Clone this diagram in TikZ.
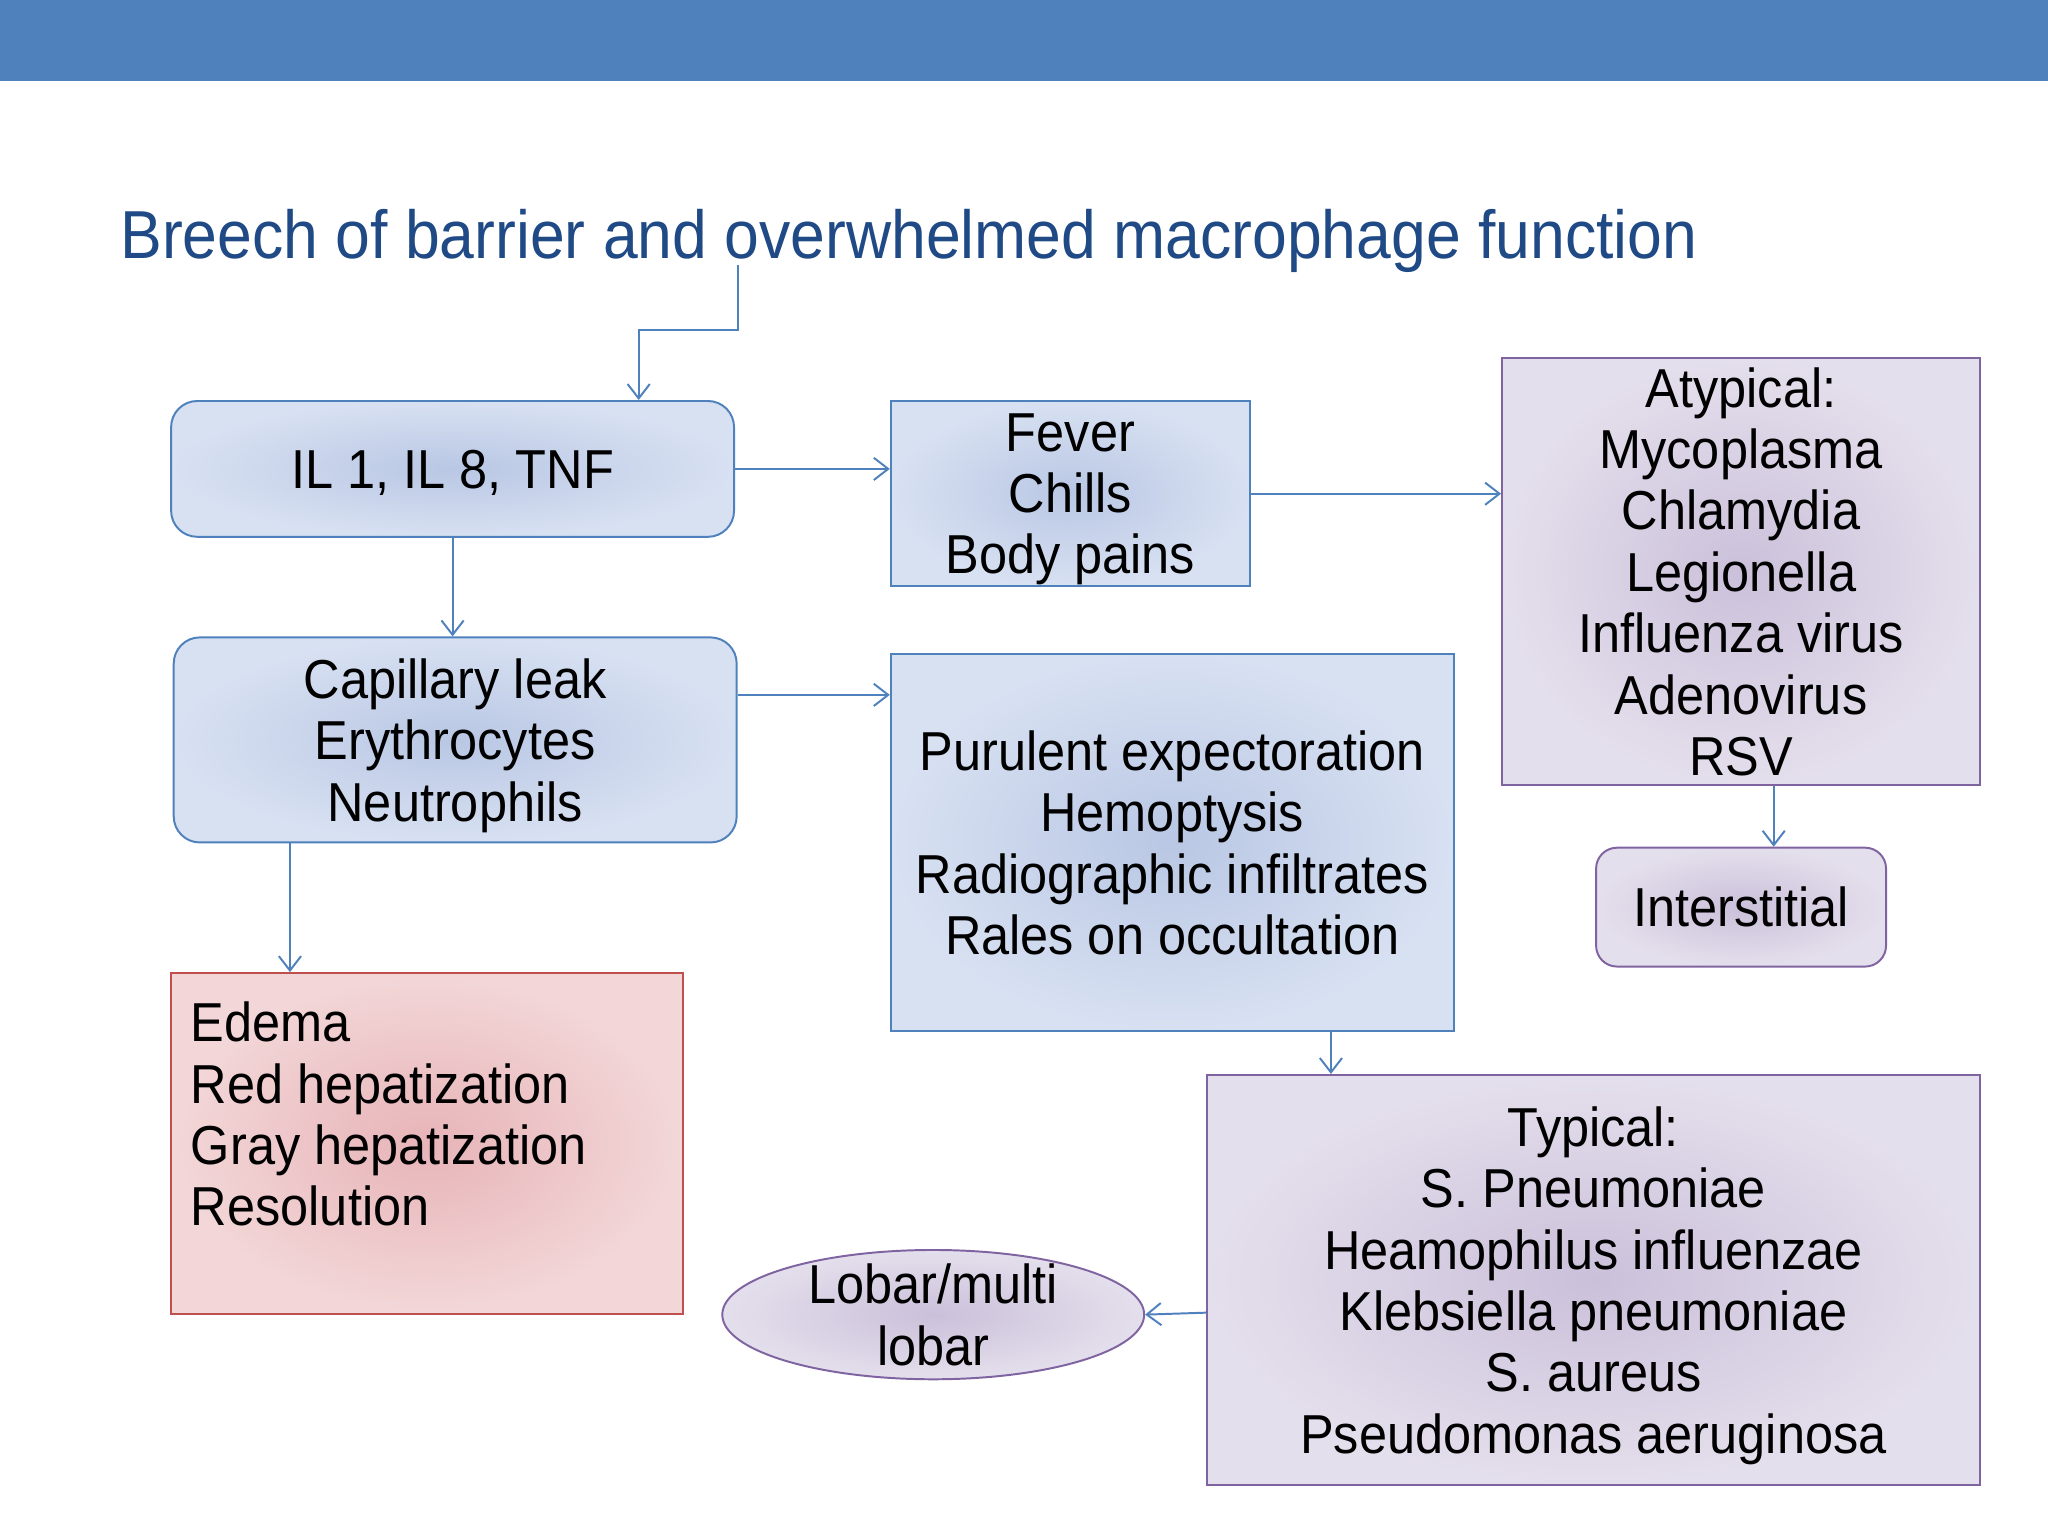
\documentclass[tikz,border=0pt]{standalone}
\usepackage{fontspec}
\setmainfont{Liberation Sans}[FakeStretch=0.92]
\usepackage{xcolor}
\usepackage{tikz}
\usetikzlibrary{arrows.meta,shapes.geometric,positioning}

\definecolor{band}{HTML}{4F81BD}
\definecolor{titleblue}{HTML}{1F4A85}
\definecolor{lineblue}{HTML}{4F81BD}
\definecolor{bluein}{HTML}{B9C7E4}
\definecolor{blueout}{HTML}{D8E1F2}
\definecolor{purpline}{HTML}{8064A2}
\definecolor{purpin}{HTML}{CBC0DA}
\definecolor{purpout}{HTML}{E4DFEC}
\definecolor{redline}{HTML}{C0504D}
\definecolor{redin}{HTML}{E7B4B8}
\definecolor{redout}{HTML}{F3D7D8}

\begin{document}
\begin{tikzpicture}[x=1pt, y=-1pt,
  every node/.style={font=\fontsize{42}{47}\selectfont, inner sep=0pt},
  bluebox/.style={draw=lineblue, line width=1.5pt, shading=radial, inner color=bluein, outer color=blueout, align=center, text depth=0pt},
  purpbox/.style={draw=purpline, line width=1.5pt, shading=radial, inner color=purpin, outer color=purpout, align=center, text depth=0pt},
  redbox/.style={draw=redline, line width=1.5pt, shading=radial, inner color=redin, outer color=redout},
  arr/.style={draw=lineblue, line width=1.5pt, -{Straight Barb[length=11pt,width=17pt]}}]

\useasboundingbox (0,0) rectangle (1568,1176);
\fill[white] (0,0) rectangle (1568,1176);
\fill[band] (0,0) rectangle (1568,62);

\node[anchor=base west, font=\fontsize{52}{60}\selectfont, text=titleblue] (title) at (92,198) {Breech of barrier and overwhelmed macrophage function};

\node[bluebox, rounded corners=20pt, minimum width=431pt, minimum height=104pt] (il) at (346.5,359) {IL 1, IL 8, TNF};
\node[bluebox, minimum width=275pt, minimum height=142pt] (fever) at (819.5,378) {Fever\\Chills\\Body pains};
\node[purpbox, minimum width=366pt, minimum height=327pt] (atyp) at (1333,437.5) {Atypical:\\Mycoplasma\\Chlamydia\\Legionella\\Influenza virus\\Adenovirus\\RSV};
\node[bluebox, rounded corners=20pt, minimum width=431pt, minimum height=157pt] (cap) at (348.5,566.5) {Capillary leak\\Erythrocytes\\Neutrophils};
\node[bluebox, minimum width=431pt, minimum height=288pt] (purul) at (897.5,645) {Purulent expectoration\\Hemoptysis\\Radiographic infiltrates\\Rales on occultation};
\node[purpbox, rounded corners=16pt, minimum width=222pt, minimum height=91pt] (inter) at (1333,694.5) {Interstitial};
\node[redbox, minimum width=392pt, minimum height=261pt] (edema) at (327,875.5) {};
\node[anchor=north west, align=left] (edtext) at (146,767) {Edema\\Red hepatization\\Gray hepatization\\Resolution};
\node[purpbox, minimum width=592pt, minimum height=314pt] (typ) at (1220,980) {Typical:\\S. Pneumoniae\\Heamophilus influenzae\\Klebsiella pneumoniae\\S. aureus\\Pseudomonas aeruginosa};
\node[ellipse, draw=purpline, line width=1.5pt, shading=radial, inner color=purpin, outer color=purpout, minimum width=323pt, minimum height=99pt] (lobar) at (714.5,1006.5) {};
\node[align=center, text depth=0pt] (lobtext) at (lobar.center) {Lobar/multi\\lobar};

\coordinate (brk) at (565,203);
\coordinate (elb) at (489,253);
\draw[arr] (brk) |- (elb) -- (elb |- il.north);
\draw[arr] (il.east) -- (il.east -| fever.west);
\draw[arr] (il.south) -- (il.south |- cap.north);
\draw[arr] (fever.east) -- (fever.east -| atyp.west);
\draw[arr] ([yshift=34.5pt]cap.east) -- ([yshift=34.5pt]cap.east -| purul.west);
\draw[arr] ([xshift=-126.5pt]cap.south) -- ([xshift=-126.5pt]cap.south |- edema.north);
\draw[arr] ([xshift=25pt]atyp.south) -- ([xshift=25pt]atyp.south |- inter.north);
\draw[arr] ([xshift=121.5pt]purul.south) -- ([xshift=121.5pt]purul.south |- typ.north);
\draw[arr] ([yshift=-25pt]typ.west) -- (lobar.east);

\end{tikzpicture}
\end{document}
